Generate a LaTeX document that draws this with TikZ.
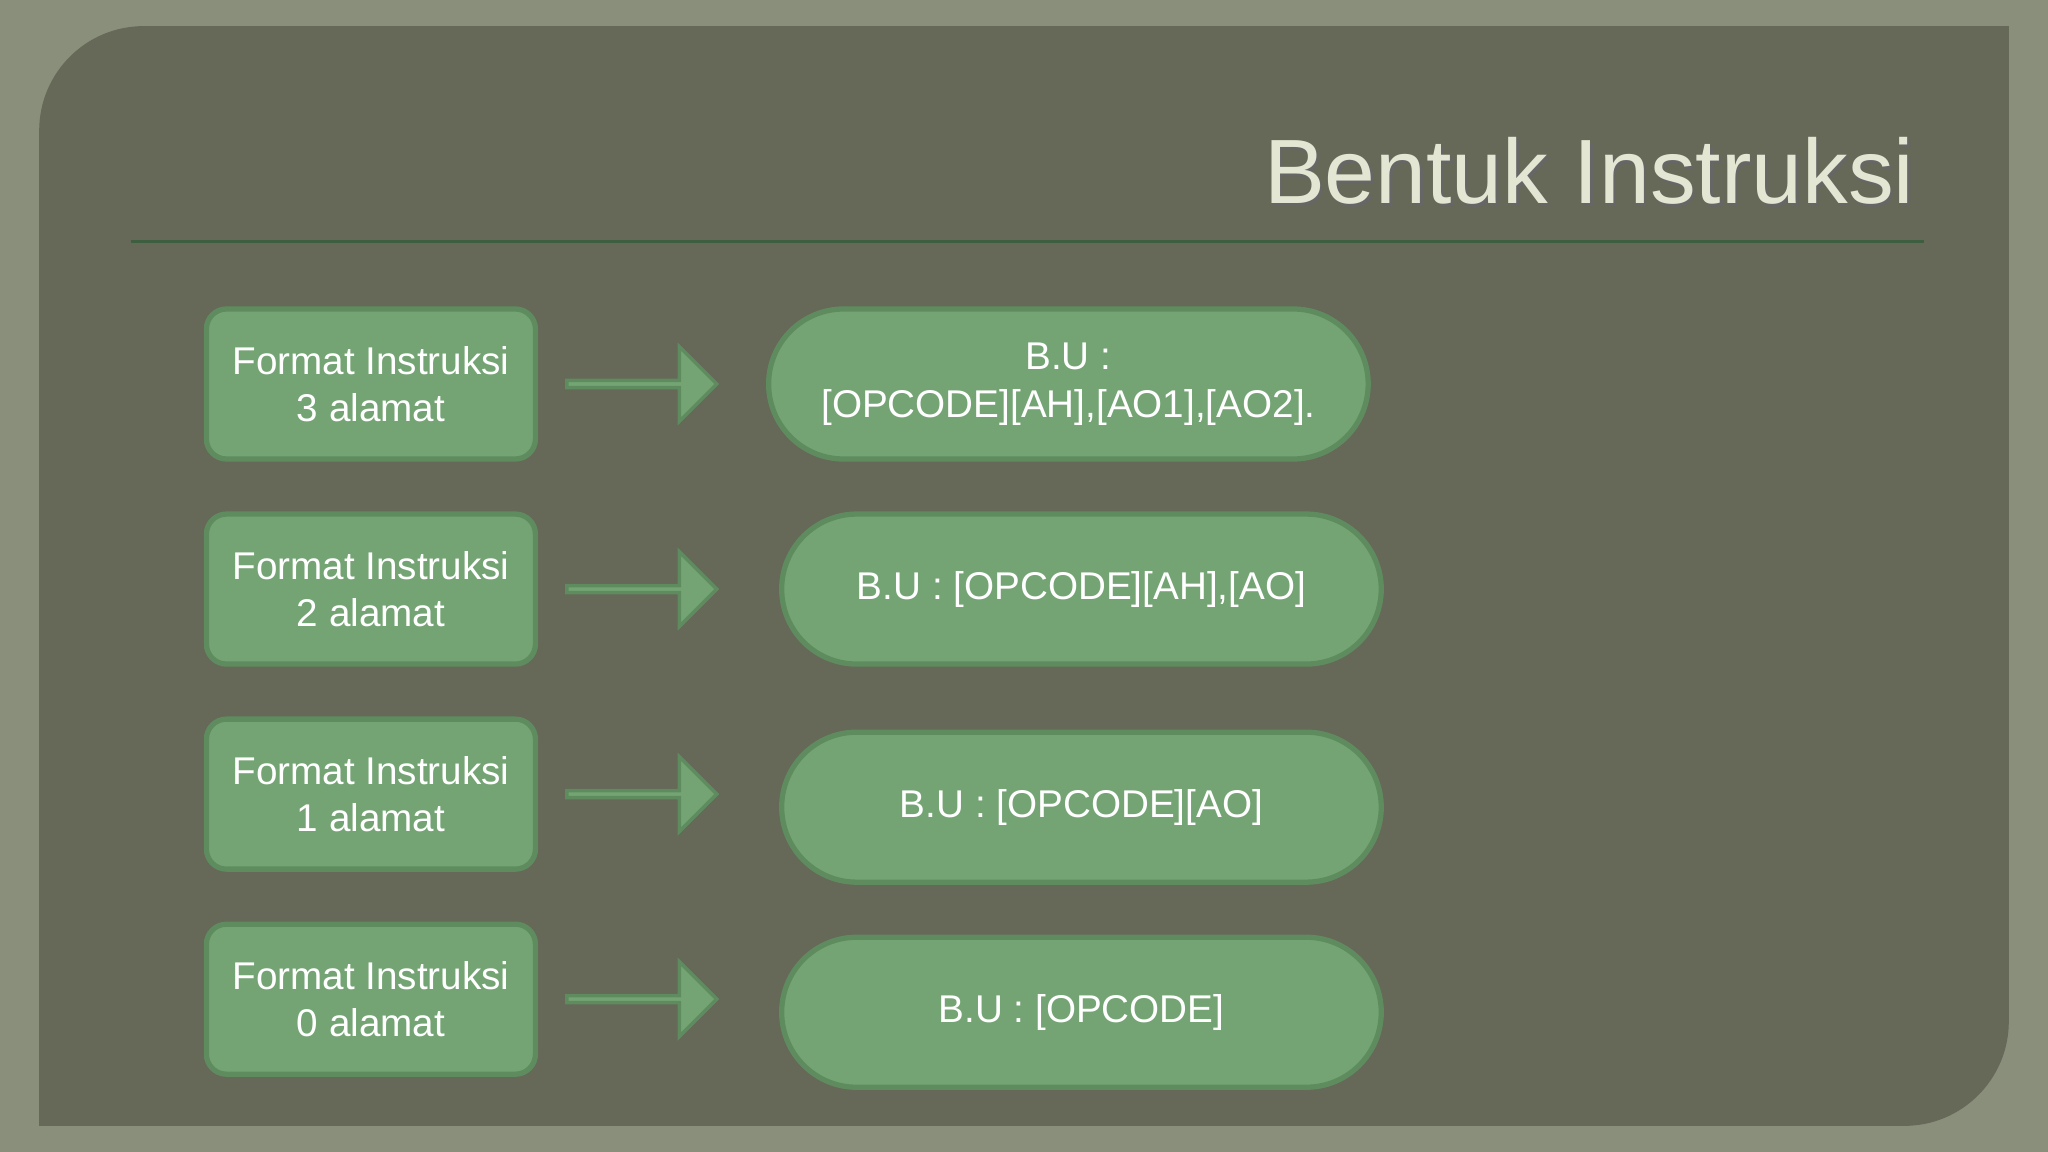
\documentclass[tikz,border=0pt]{standalone}
\usepackage{fontspec}
\setmainfont{Liberation Sans}
\usetikzlibrary{shapes.arrows,shapes.misc}
\definecolor{outer}{HTML}{8A8F7C}
\definecolor{panel}{HTML}{666858}
\definecolor{boxg}{HTML}{74A474}
\definecolor{edgeg}{HTML}{5E8C5E}
\definecolor{titlec}{HTML}{E2E6D2}
\definecolor{rule}{HTML}{3E5E40}
\tikzset{
 px/.style={x=0.01306cm,y=-0.01306cm},
 fmtbox/.style={draw=edgeg,line width=1.5pt,fill=boxg,rounded corners=0.2cm,minimum width=3.29cm,minimum height=1.5cm,text=white,align=center,font=\fontsize{11}{13.5}\selectfont},
 pill/.style={draw=edgeg,line width=1.5pt,fill=boxg,rounded rectangle,minimum width=6.23cm,minimum height=1.5cm,text=white,align=center,font=\fontsize{11}{13.5}\selectfont},
 arr/.style={single arrow,draw=edgeg,line width=1pt,fill=boxg,minimum width=0.75cm,single arrow head extend=0.17cm,single arrow head indent=0cm,minimum height=1.5cm,inner sep=0pt}
}
\begin{document}
\begin{tikzpicture}[px]
\useasboundingbox (0,0) rectangle (1568,882);
\fill[outer] (0,0) rectangle (1568,882);
\fill[panel] (30,100) arc[start angle=180,end angle=270,radius=80] -- (1538,20) -- (1538,782) arc[start angle=0,end angle=90,radius=80] -- (30,862) -- cycle;
\node[anchor=base east,text=black!60,font=\fontsize{26}{30}\selectfont] (ts) at (1477,158) {Bentuk Instruksi};
\node[anchor=base east,text=titlec,font=\fontsize{26}{30}\selectfont] (title) at (1475,156) {Bentuk Instruksi};
\draw[rule,line width=1pt] (100,185) -- (1473,185);
\node[fmtbox] (f3) at (284,294) {Format Instruksi\\3 alamat};
\node[fmtbox] (f2) at (284,451) {Format Instruksi\\2 alamat};
\node[fmtbox] (f1) at (284,608) {Format Instruksi\\1 alamat};
\node[fmtbox] (f0) at (284,765) {Format Instruksi\\0 alamat};
\node[arr] (a3) at (490,294) {};
\node[arr] (a2) at (490,451) {};
\node[arr] (a1) at (490,608) {};
\node[arr] (a0) at (490,765) {};
\node[pill] (p3) at (818,294) {B.U :\\{[OPCODE][AH],[AO1],[AO2].}};
\node[pill] (p2) at (828,451) {B.U : [OPCODE][AH],[AO]};
\node[pill] (p1) at (828,618) {B.U : [OPCODE][AO]};
\node[pill] (p0) at (828,775) {B.U : [OPCODE]};
\end{tikzpicture}
\end{document}
